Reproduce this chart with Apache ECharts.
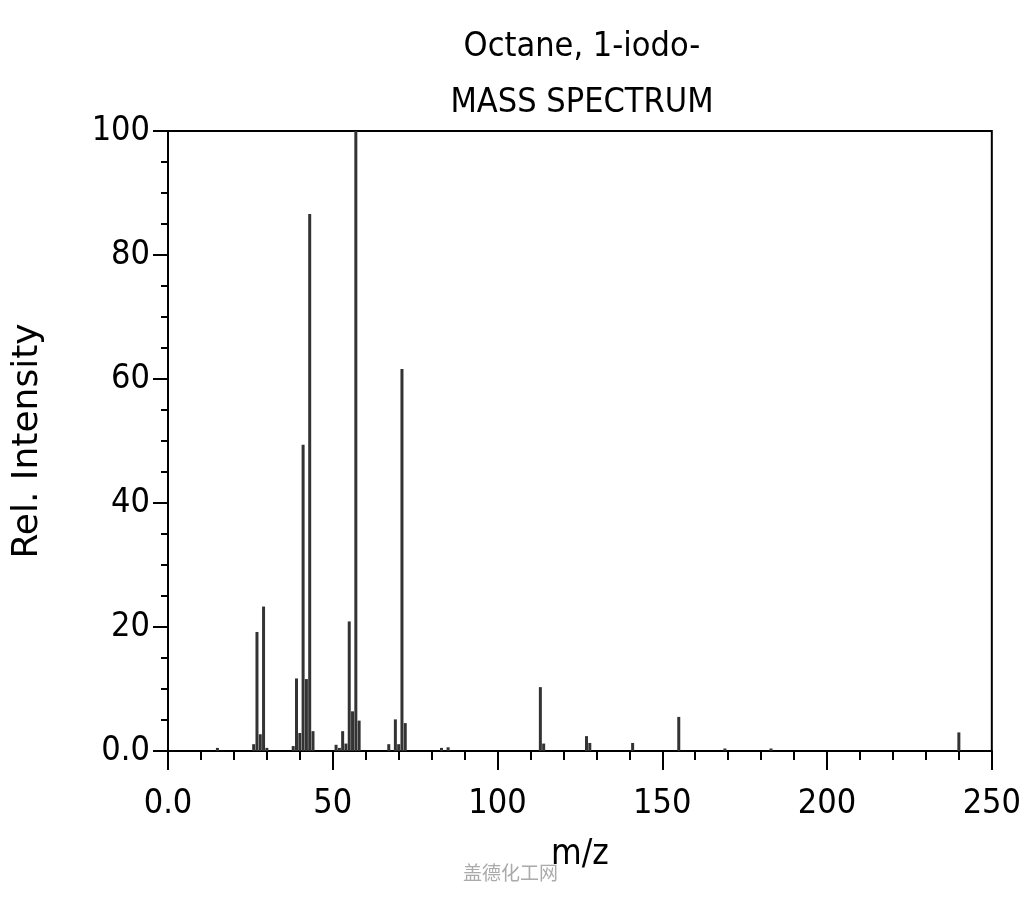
<!DOCTYPE html>
<html>
<head>
<meta charset="utf-8">
<script src="https://cdn.jsdelivr.net/npm/echarts@6/dist/echarts.min.js"></script>
<style>
  html, body { margin: 0; padding: 0; background: #fff; }
  #main { width: 1024px; height: 900px; }
</style>
</head>
<body>
<div id="main"></div>
<script>
  // m/z positions and relative intensities
  const mz = [15, 26, 27, 28, 29, 30, 38, 39, 40, 41, 42, 43, 44,
    51, 52, 53, 54, 55, 56, 57, 58, 67, 69, 70, 71, 72, 83, 85,
    113, 114, 127, 128, 141, 155, 169, 183, 240]
  const intensity = [0.5, 1.1, 19.2, 2.7, 23.3, 0.5, 0.8, 11.7, 2.9, 49.4, 11.6, 86.6, 3.2,
    1.0, 0.5, 3.2, 1.2, 20.9, 6.4, 100, 4.9, 1.1, 5.1, 1.1, 61.6, 4.5, 0.5, 0.6,
    10.3, 1.2, 2.4, 1.3, 1.3, 5.5, 0.4, 0.4, 3.0]
  const titleLines = ['Octane, 1-iodo-', 'MASS SPECTRUM']

  const font = '"DejaVu Sans Condensed", "DejaVu Sans", sans-serif'
  const chart = echarts.init(document.getElementById('main'))

  const peaks = mz.map((m, i) => [m, intensity[i]])
  const zeroFmt = (v) => (v === 0 ? '0.0' : String(v))

  chart.setOption({
    animation: false,
    backgroundColor: '#fff',
    title: {
      text: titleLines.join('\n'),
      left: 577,
      top: 14,
      textAlign: 'center',
      textStyle: { fontFamily: font, fontSize: 34, fontWeight: 'normal', color: '#000', lineHeight: 56 },
    },
    grid: {
      left: 168, right: 32, top: 131, bottom: 149,
      show: true, borderColor: '#000', borderWidth: 2,
    },
    xAxis: {
      type: 'value',
      min: 0, max: 250, interval: 50,
      name: 'm/z',
      nameLocation: 'middle',
      nameGap: 86,
      nameTextStyle: { fontFamily: font, fontSize: 35, color: '#000' },
      axisLine: { show: true, lineStyle: { color: '#000', width: 2 } },
      axisTick: { show: true, length: 19, lineStyle: { color: '#000', width: 2 } },
      minorTick: { show: true, splitNumber: 5, length: 9, lineStyle: { color: '#000', width: 2 } },
      splitLine: { show: false },
      axisLabel: { fontFamily: font, fontSize: 34, color: '#000', margin: 36, formatter: zeroFmt },
    },
    yAxis: {
      type: 'value',
      min: 0, max: 100, interval: 20,
      name: 'Rel. Intensity',
      nameLocation: 'middle',
      nameGap: 122,
      nameTextStyle: { fontFamily: '"DejaVu Sans", sans-serif', fontSize: 36, color: '#000' },
      axisLine: { show: true, lineStyle: { color: '#000', width: 2 } },
      axisTick: { show: true, length: 15, lineStyle: { color: '#000', width: 2 } },
      minorTick: { show: true, splitNumber: 4, length: 7, lineStyle: { color: '#000', width: 2 } },
      splitLine: { show: false },
      axisLabel: { fontFamily: font, fontSize: 34, color: '#000', margin: 18, formatter: zeroFmt },
    },
    graphic: [
      {
        type: 'text',
        left: 463, top: 863,
        style: { text: '盖德化工网', font: '19px "Noto Sans CJK SC", serif', fill: '#aaa' },
      },
    ],
    series: [
      {
        type: 'bar',
        data: peaks,
        barWidth: 3,
        itemStyle: { color: '#333' },
      },
    ],
  })
</script>
</body>
</html>
